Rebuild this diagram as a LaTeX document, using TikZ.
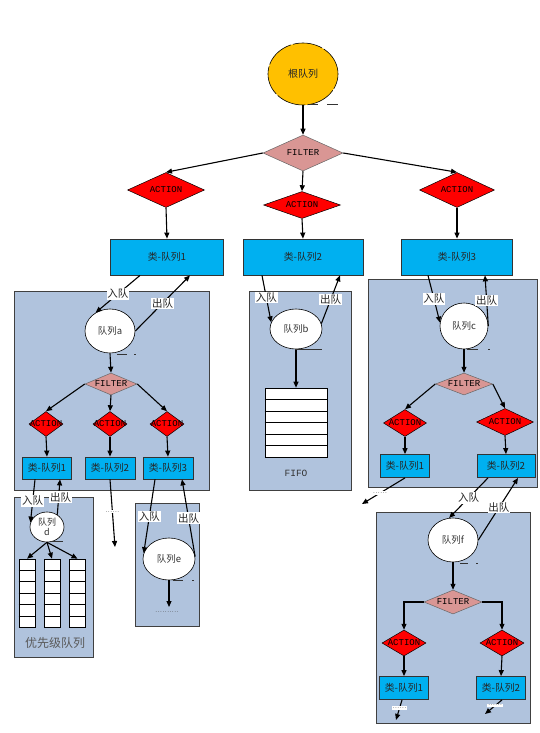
\documentclass[tikz,border=0pt]{standalone}
\usepackage{fontspec}
\newfontfamily\cjk{Noto Sans CJK SC}
\newfontfamily\mono{Liberation Mono}
\usetikzlibrary{shapes.geometric,arrows.meta,calc}
\definecolor{panelfill}{RGB}{176,195,221}
\definecolor{clsblue}{RGB}{0,176,240}
\definecolor{filtpink}{RGB}{217,150,148}
\definecolor{rootgold}{RGB}{255,192,0}
\newcommand{\zw}[1]{\makebox[0pt][c]{#1}}
\begin{document}
\begin{tikzpicture}[x=1pt,y=-1pt,
  arr/.style={line width=1.1pt,-{Triangle[length=6pt,width=5pt]}},
  panel/.style={rectangle,draw=black!75,line width=0.9pt,fill=panelfill,inner sep=0pt},
  clsbox/.style={rectangle,draw=black!80,line width=0.8pt,fill=clsblue,inner sep=0pt,font=\cjk\fontsize{9.8}{10}\selectfont,text=black!85},
  actd/.style={diamond,draw=black,line width=0.5pt,fill=red,inner sep=0pt,font=\mono\fontsize{9}{9}\selectfont},
  filtd/.style={diamond,draw=black!60,line width=0.5pt,fill=filtpink,inner sep=0pt,font=\mono\fontsize{9}{9}\selectfont},
  que/.style={ellipse,draw=black,line width=0.6pt,fill=white,inner sep=0pt,align=center,font=\cjk\fontsize{9.5}{10.5}\selectfont,text=black!80},
  lbl/.style={fill=white,inner sep=0.8pt,font=\cjk\fontsize{10.5}{10.5}\selectfont,text=black!85},
  dotl/.style={fill=white,inner xsep=0.8pt,inner ysep=1.2pt,font=\fontsize{8}{8}\selectfont,text=black!70},
  cellbox/.style={rectangle,draw=black,line width=0.6pt,fill=white,inner sep=0pt},
  art/.style={line width=0.6pt,black!80}
]
\useasboundingbox (0,0) rectangle (540,733);

% panels
\node[panel,minimum width=195pt,minimum height=199pt] (pa) at (111.5,390.5) {};
\node[panel,minimum width=102pt,minimum height=199pt] (pb) at (300,390.5) {};
\node[panel,minimum width=169pt,minimum height=208pt] (pc) at (452.5,383) {};
\node[panel,minimum width=79pt,minimum height=160pt] (pd) at (53.5,577) {};
\node[panel,minimum width=64pt,minimum height=123pt] (pe) at (167,564.5) {};
\node[panel,minimum width=154pt,minimum height=211pt] (pf) at (453,617.5) {};

% top level
\node[ellipse,draw=black,line width=0.6pt,dash pattern=on 30pt off 2pt,fill=rootgold,minimum width=70pt,minimum height=62pt,inner sep=0pt,font=\cjk\fontsize{10}{10}\selectfont,text=black!85] (root) at (303,74) {根队列};
\node[filtd,minimum width=80pt,minimum height=36pt] (f0) at (303,153) {\zw{FILTER}};
\node[actd,minimum width=77pt,minimum height=35pt] (a1) at (166,190) {\zw{ACTION}};
\node[actd,minimum width=77pt,minimum height=27pt] (a2) at (302,205) {\zw{ACTION}};
\node[actd,minimum width=75pt,minimum height=35pt] (a3) at (457,190) {\zw{ACTION}};
\node[clsbox,minimum width=113pt,minimum height=36pt] (c1) at (167,257) {类-队列1};
\node[clsbox,minimum width=120pt,minimum height=36pt] (c2) at (303,257) {类-队列2};
\node[clsbox,minimum width=111pt,minimum height=36pt] (c3) at (457,257) {类-队列3};

\draw[arr] (root.south) -- (f0.north);
\draw[arr] (f0.west) -- (a1.north);
\draw[arr] (f0.south) -- (a2.north);
\draw[arr] (f0.east) -- (a3.north);
\draw[arr] (a1.south) -- (c1.north);
\draw[arr] (a2.south) -- (c2.north);
\draw[arr] (a3.south) -- (c3.north);

% panel A
\node[que,minimum width=50pt,minimum height=44pt] (qa) at (110,331) {队列a};
\draw[arr] ([xshift=-27pt]c1.south) -- node[lbl,pos=.5] {入队} (qa.128);
\draw[arr] (qa.0) -- node[lbl,pos=.5] {出队} ([xshift=23pt]c1.south);
\node[filtd,minimum width=52pt,minimum height=22pt] (fa) at (111,384) {\zw{FILTER}};
\node[actd,minimum width=34pt,minimum height=25pt] (aa1) at (46,424) {\zw{ACTION}};
\node[actd,minimum width=34pt,minimum height=25pt] (aa2) at (110,424) {\zw{ACTION}};
\node[actd,minimum width=34pt,minimum height=25pt] (aa3) at (167,424) {\zw{ACTION}};
\node[clsbox,minimum width=49pt,minimum height=22pt] (ca1) at (47,468) {类-队列1};
\node[clsbox,minimum width=50pt,minimum height=22pt] (ca2) at (110,468) {类-队列2};
\node[clsbox,minimum width=50pt,minimum height=22pt] (ca3) at (168,468) {类-队列3};
\draw[arr] (qa.south) -- (fa.north);
\draw[arr] (fa.west) -- (aa1.north);
\draw[arr] (fa.south) -- (aa2.north);
\draw[arr] (fa.east) -- (aa3.north);
\draw[arr] (aa1.south) -- (ca1.north);
\draw[arr] (aa2.south) -- (ca2.north);
\draw[arr] (aa3.south) -- (ca3.north);

% panel D
\node[que,minimum width=34pt,minimum height=30pt,font=\cjk\fontsize{9}{10}\selectfont] (qd) at (47,527) {队列\\d};
\draw[arr] ([xshift=-12pt]ca1.south) -- node[lbl,pos=.5] {入队} (qd.165);
\draw[arr] (qd.50) -- node[lbl,pos=.5,xshift=2pt] {出队} ([xshift=13pt]ca1.south);
\node[cellbox,minimum width=16pt,minimum height=68pt] (sd1) at (27,593) {};
\node[cellbox,minimum width=16pt,minimum height=68pt] (sd2) at (52,593) {};
\node[cellbox,minimum width=16pt,minimum height=68pt] (sd3) at (77.5,593) {};
\foreach \s in {sd1,sd2,sd3}{
  \foreach \i in {1,...,5}{
    \draw[line width=0.5pt] ($(\s.north west)!\i/6!(\s.south west)$) -- ($(\s.north east)!\i/6!(\s.south east)$);
  }
}
\draw[arr] (qd.south) -- (sd1.north);
\draw[arr] (qd.south) -- (sd2.north);
\draw[arr] (qd.south) -- (sd3.north);
\node[font=\cjk\fontsize{12}{12}\selectfont,text=black!65] (pq) at (55,643) {优先级队列};

% from ca2
\coordinate (ea2) at (115,547);
\draw[arr] (ca2.south) -- node[dotl,pos=.48] {......} (ea2);

% panel E
\node[que,minimum width=52pt,minimum height=42pt] (qe) at (169,559) {队列e};
\draw[arr] ([xshift=-13pt]ca3.south) -- node[lbl,pos=.5] {入队} (qe.167);
\draw[arr] (qe.5) -- node[lbl,pos=.5] {出队} ([xshift=14pt]ca3.south);
\coordinate (ee) at (169,607);
\draw[arr] (qe.south) -- (ee);
\node[font=\fontsize{8}{8}\selectfont,inner sep=0pt,text=black!70] (ed) at (167,612) {..........};

% panel B
\node[que,minimum width=52pt,minimum height=40pt] (qb) at (296,329) {队列b};
\draw[arr] ([xshift=-41pt]c2.south) -- node[lbl,pos=.47] {入队} (qb.165);
\draw[arr] (qb.12) -- node[lbl,pos=.5] {出队} ([xshift=37pt]c2.south);
\node[cellbox,minimum width=62pt,minimum height=69pt] (fifo) at (296,422.5) {};
\foreach \i in {1,...,5}{
  \draw[line width=0.5pt] ($(fifo.north west)!\i/6!(fifo.south west)$) -- ($(fifo.north east)!\i/6!(fifo.south east)$);
}
\draw[arr] (qb.south) -- (fifo.north);
\node[font=\mono\fontsize{9.5}{9.5}\selectfont,text=black!80] (fl) at (296,473) {FIFO};

% panel C
\node[que,minimum width=48pt,minimum height=46pt] (qc) at (464,326) {队列c};
\draw[arr] ([xshift=-29pt]c3.south) -- node[lbl,pos=.5] {入队} (qc.172);
\draw[arr] (qc.0) -- node[lbl,pos=.5] {出队} ([xshift=28pt]c3.south);
\node[filtd,minimum width=57pt,minimum height=22pt] (fc) at (464,384) {\zw{FILTER}};
\node[actd,minimum width=43pt,minimum height=27pt] (ac1) at (405,423) {\zw{ACTION}};
\node[actd,minimum width=57pt,minimum height=27pt] (ac2) at (505,422) {\zw{ACTION}};
\node[clsbox,minimum width=49pt,minimum height=23pt] (cc1) at (405,466) {类-队列1};
\node[clsbox,minimum width=58pt,minimum height=23pt] (cc2) at (506,466) {类-队列2};
\draw[arr] (qc.south) -- (fc.north);
\draw[arr] (fc.west) -- (ac1.north);
\draw[arr] (fc.east) -- (ac2.north);
\draw[arr] (ac1.south) -- (cc1.north);
\draw[arr] (ac2.south) -- (cc2.north);
\coordinate (ec1) at (362,504);
\draw[arr] (cc1.south) -- node[dotl,pos=.58] {......} (ec1);

% panel F
\node[que,minimum width=50pt,minimum height=44pt] (qf) at (453,540) {队列f};
\draw[arr] ([xshift=-18pt]cc2.south) -- node[lbl,pos=.5] {入队} (qf.100);
\draw[arr] (qf.0) -- node[lbl,pos=.52] {出队} ([xshift=12pt]cc2.south);
\node[filtd,minimum width=58pt,minimum height=24pt] (ff) at (453,602) {\zw{FILTER}};
\node[actd,minimum width=44pt,minimum height=26pt] (af1) at (404,643) {\zw{ACTION}};
\node[actd,minimum width=44pt,minimum height=26pt] (af2) at (502,643) {\zw{ACTION}};
\node[clsbox,minimum width=49pt,minimum height=23pt] (cf1) at (404,688) {类-队列1};
\node[clsbox,minimum width=49pt,minimum height=23pt] (cf2) at (501,688) {类-队列2};
\draw[arr] (qf.south) -- (ff.north);
\draw[arr] (ff.west) -| (af1.north);
\draw[arr] (ff.east) -| (af2.north);
\draw[arr] (af1.south) -- (cf1.north);
\draw[arr] (af2.south) -- (cf2.north);
\coordinate (ef1) at (396,720);
\coordinate (ef2) at (485,714);
\draw[arr] ([xshift=-2pt]cf1.south) -- node[dotl,pos=.4] {......} (ef1);
\draw[arr] ([xshift=1pt]cf2.south) -- node[dotl,pos=.4] {......} (ef2);

% small rendering marks
\draw[art] (310,104) -- (318,104) (327,104) -- (338,104);
\draw[art] (117,354) -- (127,354) (134,354) -- (136,354);
\draw[art] (295,349) -- (322,349);
\draw[art] (467,349) -- (478,349) (488,349) -- (490,349);
\draw[art] (50,541) -- (63,541);
\draw[art] (173,580) -- (183,580) (192,580) -- (194,580);
\draw[art] (460,563) -- (468,563) (476,563) -- (478,563);
\end{tikzpicture}
\end{document}
